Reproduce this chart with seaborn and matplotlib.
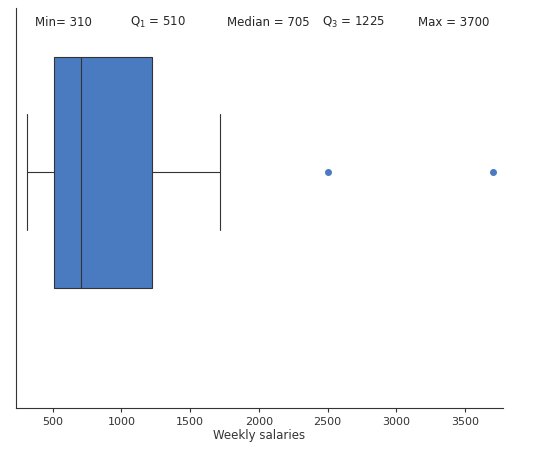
import matplotlib
matplotlib.use("Agg")
import matplotlib.pyplot as plt
import seaborn as sns
import pandas as pd

# weekly salaries (chosen so the five-number summary matches the reference)
salaries = [310, 400, 450, 510, 560, 640, 705, 850, 1000, 1225, 1720, 2500, 3700]
stat_labels = ["Min= 310", r"Q$_1$ = 510", "Median = 705", r"Q$_3$ = 1225", "Max = 3700"]
stat_xpos = [0.039, 0.234, 0.433, 0.628, 0.825]

df = pd.DataFrame({"Weekly salaries": salaries})

sns.set_style("white")
fig = plt.figure(figsize=(5.44, 4.54), dpi=100)
ax = fig.add_axes([0.029, 0.101, 0.896, 0.881])

sns.boxplot(data=df, x="Weekly salaries", orient="h", width=0.8, color="#4a7abf",
            saturation=1, linewidth=0.8, linecolor="#333333",
            flierprops=dict(marker="o", markersize=4, markerfacecolor="#4a7abf",
                            markeredgecolor="#4a7abf"),
            ax=ax)

ax.set_xlim(231, 3777)
ax.set_ylim(0.817, -0.568)
ax.set_xticks([500, 1000, 1500, 2000, 2500, 3000, 3500])
ax.tick_params(axis="x", labelsize=8, length=3, bottom=True, colors="#333333")
ax.set_yticks([])
ax.set_xlabel("Weekly salaries", fontsize=8.5, color="#333333", labelpad=1)
for s in ["top", "right"]:
    ax.spines[s].set_visible(False)
for s in ["left", "bottom"]:
    ax.spines[s].set_color("#333333")
    ax.spines[s].set_linewidth(0.8)

for lab, xp in zip(stat_labels, stat_xpos):
    ax.text(xp, 0.965, lab, transform=ax.transAxes, fontsize=8.5, va="center")

fig.savefig("out.png", dpi=100)
